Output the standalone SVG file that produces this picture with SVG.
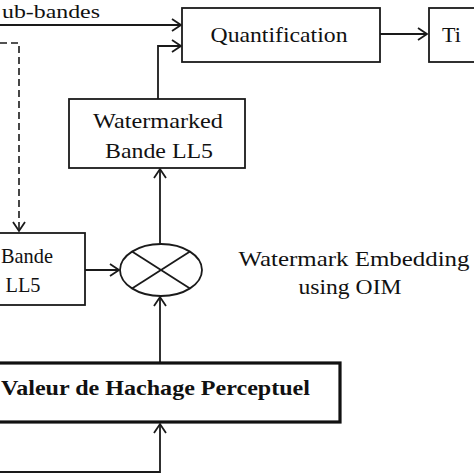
<svg xmlns="http://www.w3.org/2000/svg" width="474" height="474" viewBox="0 0 474 474">
<style>
.box{fill:#fff;stroke:#1a1a1a;stroke-width:1.8}
.thick{fill:#fff;stroke:#111;stroke-width:3.2}
.t{font-family:"Liberation Serif","Times New Roman",serif;font-size:22px;fill:#111}
.b{font-family:"Liberation Serif","Times New Roman",serif;font-size:21px;font-weight:bold;fill:#111}
.ln{fill:none;stroke:#1a1a1a;stroke-width:1.8}
.dash{fill:none;stroke:#1a1a1a;stroke-width:1.6;stroke-dasharray:7 4}
</style>
<defs>
<marker id="ah" markerWidth="12" markerHeight="14" refX="10" refY="7" orient="auto" markerUnits="userSpaceOnUse">
<path d="M1,1 L10,7 L1,13" fill="none" stroke="#1a1a1a" stroke-width="1.8"/>
</marker>
</defs>
<rect width="474" height="474" fill="#fff"/>
<g id="connectors">
<line class="ln" x1="0" y1="25" x2="181" y2="25" marker-end="url(#ah)"/>
<polyline class="ln" points="158,99 158,46 181,46" marker-end="url(#ah)"/>
<line class="ln" x1="380" y1="34" x2="427" y2="34" stroke-width="2.4" marker-end="url(#ah)"/>
<polyline class="dash" points="0,43 19,43 19,231" marker-end="url(#ah)"/>
<line class="ln" x1="85" y1="270" x2="119" y2="270" marker-end="url(#ah)"/>
<line class="ln" x1="160" y1="244" x2="160" y2="169" marker-end="url(#ah)"/>
<line class="ln" x1="160" y1="362" x2="160" y2="297" marker-end="url(#ah)"/>
<polyline class="ln" points="0,472 160,472 160,424" stroke-width="2.2" marker-end="url(#ah)"/>
</g>
<g id="label-subbandes"><text class="t" x="2" y="18" style="font-size:19.5px" textLength="98" lengthAdjust="spacingAndGlyphs">ub-bandes</text></g>
<g id="quantification">
<rect class="box" x="182" y="8" width="198" height="54"/>
<text class="t" x="279" y="42" text-anchor="middle" textLength="137" lengthAdjust="spacingAndGlyphs">Quantification</text>
</g>
<g id="ti">
<rect class="box" x="429" y="8" width="60" height="54"/>
<text class="t" x="442" y="42">Ti</text>
</g>
<g id="watermarked">
<rect class="box" x="69" y="99" width="176" height="69"/>
<text class="t" x="158" y="128" text-anchor="middle" textLength="130" lengthAdjust="spacingAndGlyphs">Watermarked</text>
<text class="t" x="159" y="158" text-anchor="middle" textLength="108" lengthAdjust="spacingAndGlyphs">Bande LL5</text>
</g>
<g id="bande">
<rect class="box" x="-20" y="233" width="105" height="72"/>
<text class="t" x="1" y="263" textLength="52" lengthAdjust="spacingAndGlyphs">Bande</text>
<text class="t" x="23" y="292" text-anchor="middle" textLength="35" lengthAdjust="spacingAndGlyphs">LL5</text>
</g>
<g id="multiplier">
<ellipse class="box" cx="161" cy="270" rx="41" ry="26"/>
<line class="ln" x1="132" y1="251.6" x2="190" y2="288.4"/>
<line class="ln" x1="132" y1="288.4" x2="190" y2="251.6"/>
</g>
<g id="label-embedding">
<text class="t" x="354" y="266" text-anchor="middle" textLength="231" lengthAdjust="spacingAndGlyphs">Watermark Embedding</text>
<text class="t" x="350" y="294" text-anchor="middle" textLength="103" lengthAdjust="spacingAndGlyphs">using OIM</text>
</g>
<g id="valeur">
<rect class="thick" x="-10" y="363" width="350" height="59"/>
<text class="b" x="1" y="395" textLength="309" lengthAdjust="spacingAndGlyphs">Valeur de Hachage Perceptuel</text>
</g>
</svg>
